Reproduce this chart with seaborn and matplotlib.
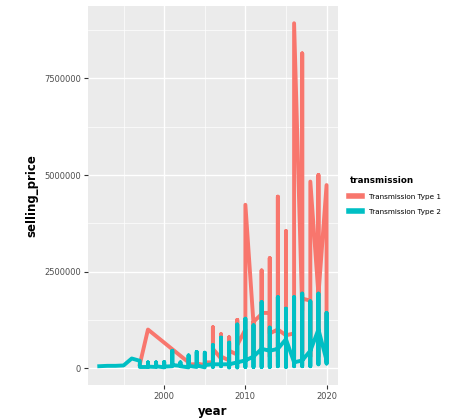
import matplotlib
matplotlib.use("Agg")
import matplotlib.pyplot as plt
from matplotlib.lines import Line2D
from matplotlib.ticker import MultipleLocator, FuncFormatter
import seaborn as sns
import pandas as pd

# rows in data order (ggplot joins points per year in the order they appear)
years_type1 = [1997, 1998,
               2003, 2003, 2004, 2004, 2005, 2005,
               2006, 2006, 2006, 2007, 2007, 2007, 2008, 2008, 2008,
               2009, 2009, 2009, 2010, 2010, 2010,
               2011, 2011, 2011, 2012, 2012, 2012, 2012,
               2013, 2013, 2013, 2013, 2014, 2014, 2014, 2014,
               2015, 2015, 2015, 2015, 2016, 2016, 2016,
               2017, 2017, 2017, 2017, 2018, 2018, 2018,
               2019, 2019, 2019, 2019, 2020, 2020, 2020]
price_type1 = [100000, 1000000,
               150000, 100000, 100000, 120000, 80000, 150000,
               150000, 1060000, 500000, 250000, 880000, 300000, 200000, 800000, 450000,
               350000, 1250000, 600000, 1000000, 300000, 4230000,
               1150000, 300000, 1200000, 1400000, 350000, 2530000, 1430000,
               1430000, 300000, 2850000, 900000, 1000000, 4440000, 300000, 1000000,
               850000, 3550000, 300000, 850000, 900000, 300000, 8930000,
               1500000, 8150000, 400000, 1800000, 1750000, 300000, 4830000,
               1900000, 5000000, 300000, 1900000, 4740000, 300000, 1400000]

years_type2 = [1992, 1993, 1994, 1995, 1996,
               1997, 1997, 1998, 1998, 1998, 1999, 1999, 1999, 2000, 2000, 2000,
               2001, 2001, 2001, 2002, 2002, 2002, 2003, 2003, 2003,
               2004, 2004, 2004, 2005, 2005, 2005,
               2006, 2006, 2006, 2006, 2007, 2007, 2007, 2007,
               2008, 2008, 2008, 2008, 2009, 2009, 2009, 2009,
               2010, 2010, 2010, 2010, 2011, 2011, 2011, 2011,
               2012, 2012, 2012, 2012, 2013, 2013, 2013, 2013,
               2014, 2014, 2014, 2014, 2015, 2015, 2015, 2015,
               2016, 2016, 2016, 2016, 2017, 2017, 2017, 2017,
               2018, 2018, 2018, 2018, 2019, 2019, 2019, 2019,
               2020, 2020, 2020, 2020]
price_type2 = [50000, 60000, 60000, 70000, 250000,
               190000, 30000, 30000, 150000, 40000, 30000, 150000, 50000, 20000, 160000, 40000,
               50000, 450000, 80000, 60000, 150000, 50000, 20000, 330000, 60000,
               30000, 420000, 70000, 20000, 400000, 80000,
               100000, 30000, 600000, 100000, 100000, 50000, 790000, 100000,
               100000, 20000, 660000, 100000, 150000, 20000, 1130000, 150000,
               200000, 30000, 1280000, 200000, 300000, 30000, 1110000, 300000,
               500000, 30000, 1710000, 500000, 450000, 30000, 1050000, 450000,
               500000, 50000, 1840000, 500000, 750000, 30000, 1540000, 750000,
               150000, 50000, 1840000, 150000, 200000, 50000, 1930000, 200000,
               450000, 50000, 1730000, 450000, 1000000, 100000, 1930000, 1000000,
               200000, 120000, 1430000, 200000]

labels = ["Transmission Type 1", "Transmission Type 2"]
colors = ["#F8766D", "#00BFC4"]

df = pd.concat([
    pd.DataFrame({"year": years_type1, "selling_price": price_type1, "transmission": labels[0]}),
    pd.DataFrame({"year": years_type2, "selling_price": price_type2, "transmission": labels[1]}),
], ignore_index=True)

fig = plt.figure(figsize=(4.7, 4.2), dpi=100)
ax = fig.add_axes([0.187, 0.083, 0.532, 0.903])
ax.set_facecolor("#EBEBEB")

sns.lineplot(data=df, x="year", y="selling_price", hue="transmission",
             hue_order=labels, palette=colors, estimator=None, sort=False,
             linewidth=2.8, legend=False, ax=ax)

ax.set_xlim(1990.6, 2021.4)
ax.set_ylim(-440000, 9380000)
ax.xaxis.set_major_locator(MultipleLocator(10))
ax.xaxis.set_minor_locator(MultipleLocator(5))
ax.yaxis.set_major_locator(MultipleLocator(2500000))
ax.yaxis.set_minor_locator(MultipleLocator(1250000))
ax.yaxis.set_major_formatter(FuncFormatter(lambda v, p: f"{int(v)}"))
ax.grid(which="major", color="white", linewidth=1.0)
ax.grid(which="minor", color="white", linewidth=0.5)
ax.set_axisbelow(True)
for s in ax.spines.values():
    s.set_visible(False)
ax.tick_params(which="major", length=3, color="#333333", labelsize=6,
               labelcolor="#4D4D4D", pad=2)
ax.tick_params(which="minor", length=0)
ax.set_xlabel("year", fontsize=8.5, fontweight="bold", labelpad=3)
ax.set_ylabel("selling_price", fontsize=8.5, fontweight="bold", labelpad=4)

handles = [Line2D([], [], color=c, linewidth=4) for c in colors]
leg = ax.legend(handles, labels, title="transmission", loc="center left",
                bbox_to_anchor=(1.02, 0.5), frameon=False, fontsize=5.2,
                handlelength=1.7, handletextpad=1.0, labelspacing=1.2,
                alignment="left")
leg.get_title().set_fontsize(6.3)
leg.get_title().set_fontweight("bold")

fig.savefig("out.png", dpi=100)
